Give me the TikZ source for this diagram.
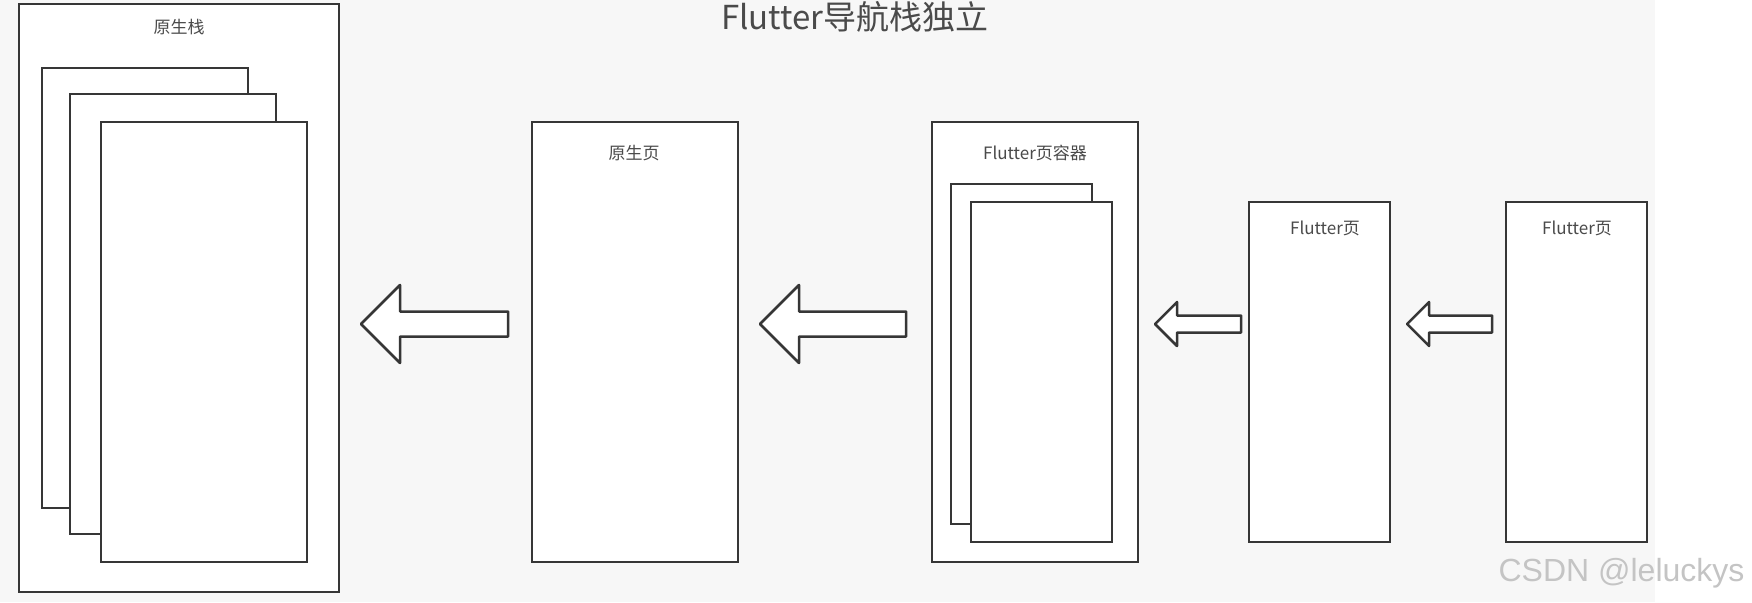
\documentclass[tikz,border=0pt]{standalone}
\usepackage{fontspec}
\setmainfont{Noto Sans CJK SC}
\newfontfamily\markfont{Liberation Sans}
\usetikzlibrary{calc}

\definecolor{linegray}{HTML}{363636}
\definecolor{textgray}{HTML}{4A4A4A}
\definecolor{bggray}{HTML}{F7F7F7}
\definecolor{markgray}{HTML}{C4C4C4}

\tikzset{
  pagebox/.style={draw=linegray, fill=white, line width=2.5pt, inner sep=0pt, outer sep=0pt, anchor=north west},
  bigpage/.style={pagebox, minimum width=206pt, minimum height=440pt},
  smallpage/.style={pagebox, minimum width=141pt, minimum height=340pt},
  pagelabel/.style={text=textgray, font=\fontsize{17}{20}\selectfont},
  blockarrow/.style={draw=linegray, fill=white, line width=2.5pt, line join=round},
}

% tail, tip, shaft half width, head half width
\newcommand{\hollowarrow}[4]{%
  \draw[blockarrow] let \p1=(#1), \p2=(#2) in
    (\x2,\y2) -- (\x2+#4,\y2+#4) -- (\x2+#4,\y2+#3) -- (\x1,\y2+#3)
    -- (\x1,\y2-#3) -- (\x2+#4,\y2-#3) -- (\x2+#4,\y2-#4) -- cycle;}

\begin{document}
\begin{tikzpicture}[x=1pt, y=-1pt]
\fill[bggray] (0,0) rectangle (1655,602);
\fill[white] (1655,0) rectangle (1752,602);
\useasboundingbox (0,0) rectangle (1752,602);

\node[text=textgray, font=\fontsize{33}{36}\selectfont] (title) at (855,17) {Flutter导航栈独立};

% native stack
\node[pagebox, minimum width=320pt, minimum height=588pt] (stack) at (19,4) {};
\node[pagelabel] (stacklabel) at (179,27) {原生栈};
\node[bigpage] (stackA) at (42,68) {};
\node[bigpage] (stackB) at (70,94) {};
\node[bigpage] (stackC) at (101,122) {};

% native page
\node[bigpage] (native) at (532,122) {};
\node[pagelabel] (nativelabel) at (634,153) {原生页};

% flutter container
\node[bigpage] (container) at (932,122) {};
\node[pagelabel] (containerlabel) at (1035,153) {Flutter页容器};
\node[smallpage] (innerA) at (951,184) {};
\node[smallpage] (innerB) at (971,202) {};

% flutter pages
\node[smallpage] (flutterA) at (1249,202) {};
\node[pagelabel] (flutterAlabel) at (1325,228) {Flutter页};
\node[smallpage] (flutterB) at (1506,202) {};
\node[pagelabel] (flutterBlabel) at (1577,228) {Flutter页};

\coordinate (axis) at (0,324);
\hollowarrow{$(native.west |- axis)+(-24,0)$}{$(stack.east |- axis)+(22,0)$}{12.5pt}{39pt}
\hollowarrow{$(container.west |- axis)+(-26,0)$}{$(native.east |- axis)+(22,0)$}{12.5pt}{39pt}
\hollowarrow{$(flutterA.west |- axis)+(-8,0)$}{$(container.east |- axis)+(17,0)$}{8.5pt}{22pt}
\hollowarrow{$(flutterB.west |- axis)+(-14,0)$}{$(flutterA.east |- axis)+(17,0)$}{8.5pt}{22pt}

\node[text=markgray, font=\markfont\fontsize{32}{36}\selectfont, anchor=east] (mark) at (1748,573) {CSDN @leluckys};
\end{tikzpicture}
\end{document}
